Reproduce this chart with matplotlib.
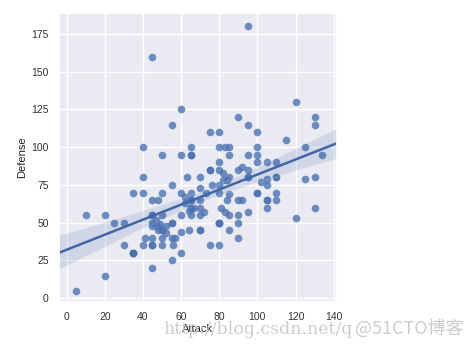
import numpy as np
import pandas as pd
import matplotlib
matplotlib.use("Agg")
import matplotlib.pyplot as plt
import seaborn as sns

attack = [49, 62, 82, 52, 64, 84, 48, 63, 83, 30, 20, 45, 35, 25, 90, 45, 60, 80, 56, 81,
          60, 90, 60, 85, 55, 90, 75, 100, 47, 62, 92, 57, 72, 102, 45, 70, 41, 76, 45, 70,
          45, 80, 50, 65, 80, 70, 95, 55, 65, 55, 80, 45, 70, 52, 82, 80, 105, 70, 110, 50,
          65, 95, 20, 35, 50, 80, 100, 130, 75, 90, 105, 40, 70, 80, 95, 120, 85, 100, 65, 75,
          35, 60, 65, 85, 110, 45, 70, 80, 105, 65, 95, 35, 50, 65, 45, 48, 73, 105, 130, 30,
          50, 40, 95, 50, 80, 120, 105, 55, 65, 90, 85, 130, 5, 55, 95, 40, 65, 67, 92, 45,
          75, 45, 110, 50, 83, 95, 125, 100, 10, 125, 85, 48, 55, 65, 65, 130, 60, 40, 60, 80,
          115, 105, 110, 85, 90, 100, 64, 84, 134, 110, 100]
defense = [49, 63, 83, 43, 58, 78, 65, 80, 100, 35, 55, 50, 30, 50, 40, 40, 55, 75, 35, 60,
           30, 65, 44, 69, 40, 55, 85, 110, 52, 67, 87, 40, 57, 77, 48, 73, 40, 75, 20, 45,
           35, 70, 55, 70, 85, 55, 80, 50, 60, 25, 50, 35, 60, 48, 78, 35, 60, 45, 80, 40,
           65, 95, 15, 30, 45, 50, 70, 80, 35, 50, 65, 35, 65, 100, 115, 130, 55, 70, 65, 110,
           70, 95, 55, 45, 70, 55, 80, 50, 75, 100, 180, 30, 45, 60, 160, 45, 70, 90, 115, 50,
           70, 80, 85, 95, 110, 53, 79, 75, 95, 120, 95, 120, 5, 115, 80, 70, 95, 60, 65, 55,
           85, 65, 80, 35, 57, 57, 100, 95, 55, 79, 80, 48, 50, 60, 60, 60, 70, 100, 125, 90,
           105, 65, 65, 100, 85, 90, 45, 65, 95, 90, 100]

x_ticks = [0, 20, 40, 60, 80, 100, 120, 140]
y_ticks = [0, 25, 50, 75, 100, 125, 150, 175]

df = pd.DataFrame({"Attack": attack, "Defense": defense})

sns.set_theme(style="darkgrid")
plt.rcParams["font.family"] = ["Liberation Sans", "DejaVu Sans"]

fig = plt.figure(figsize=(4.74, 3.45), dpi=100)
ax = fig.add_axes([0.1245, 0.1246, 0.5855, 0.8384])
ax.set_xlim(-4, 141.5)
ax.set_ylim(-2.5, 189)

np.random.seed(0)
sns.regplot(data=df, x="Attack", y="Defense", ax=ax, truncate=False,
            scatter_kws={"s": 30, "alpha": 0.8, "linewidths": 0},
            line_kws={"lw": 1.8, "color": "#3f66a8"}, color="#4C72B0")
ax.set_xlim(-4, 141.5)
ax.set_ylim(-2.5, 189)
ax.set_xticks(x_ticks)
ax.set_yticks(y_ticks)
ax.tick_params(labelsize=7.5, colors="#333333", pad=1.5)
ax.set_xlabel("Attack", fontsize=8, color="#222222", labelpad=1)
ax.set_ylabel("Defense", fontsize=8, color="#222222", labelpad=3)

fig.text(163 / 474, 1 - 334 / 345, "http://blog.csdn.net/q", fontsize=12.5,
         family="DejaVu Serif", color="#c8c8c8", alpha=0.9)
fig.text(355 / 474, 1 - 334 / 345, "@51CTO博客", fontsize=13,
         family=["Noto Sans CJK SC", "DejaVu Sans"], color="#c8c8c8", alpha=0.9)

fig.savefig("out.png", dpi=100)
